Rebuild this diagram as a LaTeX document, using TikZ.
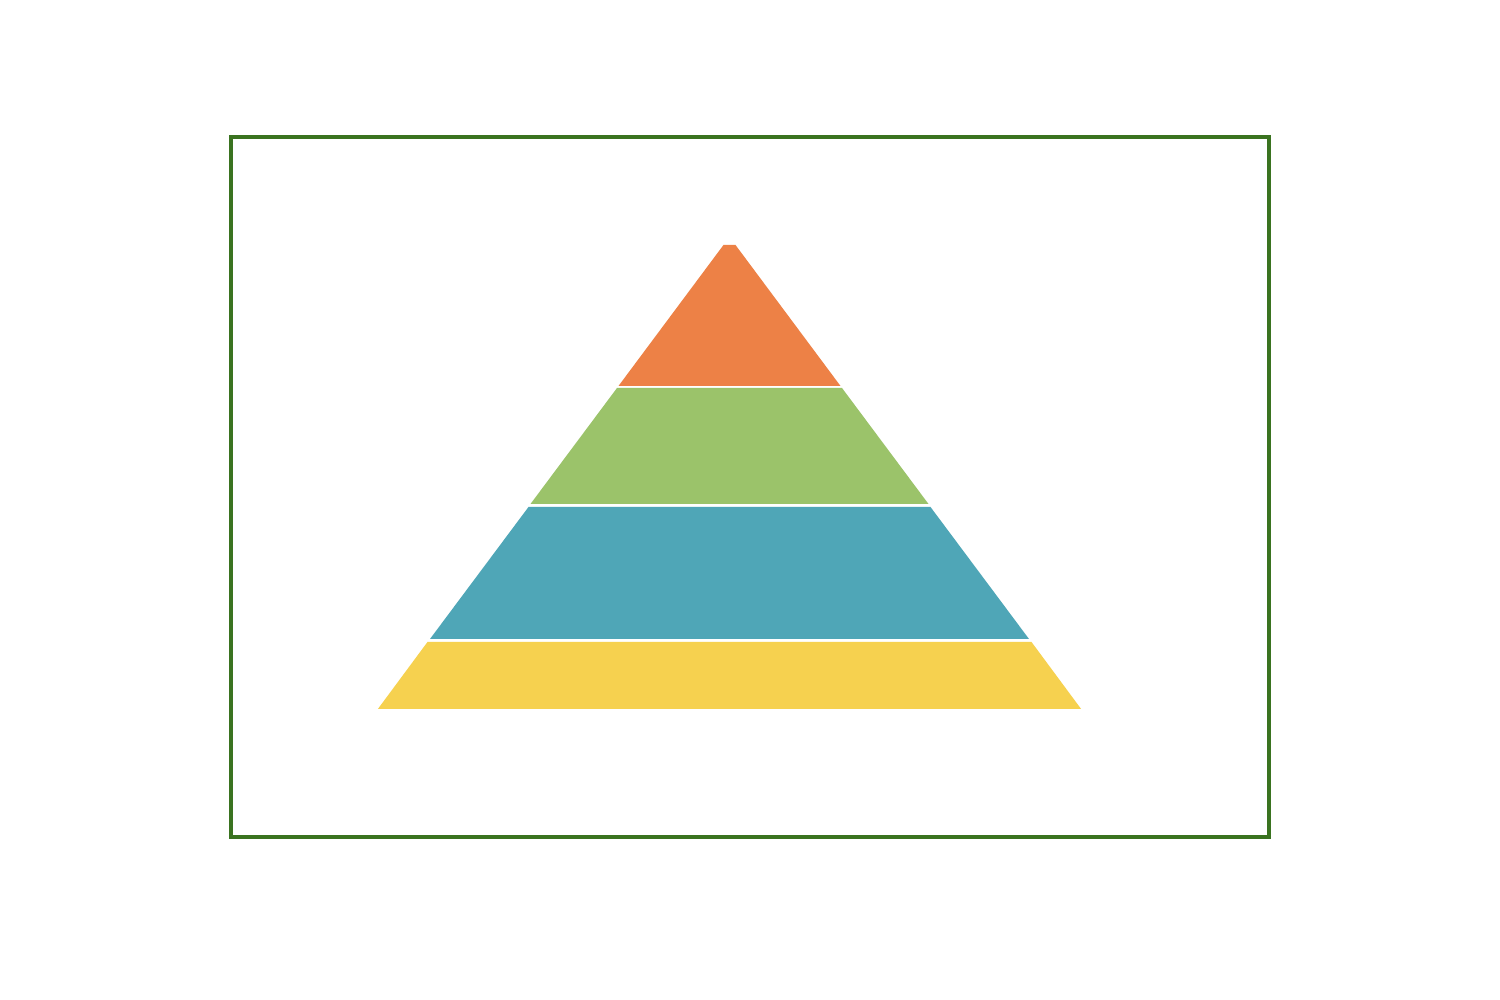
\documentclass[tikz,border=0pt]{standalone}
\definecolor{frameg}{HTML}{3A7320}
\definecolor{lorange}{HTML}{ED8146}
\definecolor{lgreen}{HTML}{9BC36A}
\definecolor{lteal}{HTML}{4FA6B7}
\definecolor{lyellow}{HTML}{F6D14F}
\begin{document}
\begin{tikzpicture}
\tikzset{layer/.style={draw=none}}
\useasboundingbox (0,0) rectangle (15,-10);
\fill[white] (0,0) rectangle (15,-10);
\draw[frameg, line width=1pt] (2.31,-1.37) rectangle (12.69,-8.37);
\fill[layer, lorange] (7.235,-2.45) -- (7.355,-2.45) -- (8.405,-3.86) -- (6.185,-3.86) -- cycle;
\fill[layer, lgreen] (6.170,-3.88) -- (8.420,-3.88) -- (9.285,-5.04) -- (5.305,-5.04) -- cycle;
\fill[layer, lteal] (5.285,-5.07) -- (9.305,-5.07) -- (10.290,-6.39) -- (4.300,-6.39) -- cycle;
\fill[layer, lyellow] (4.275,-6.42) -- (10.315,-6.42) -- (10.811,-7.09) -- (3.779,-7.09) -- cycle;
\end{tikzpicture}
\end{document}
